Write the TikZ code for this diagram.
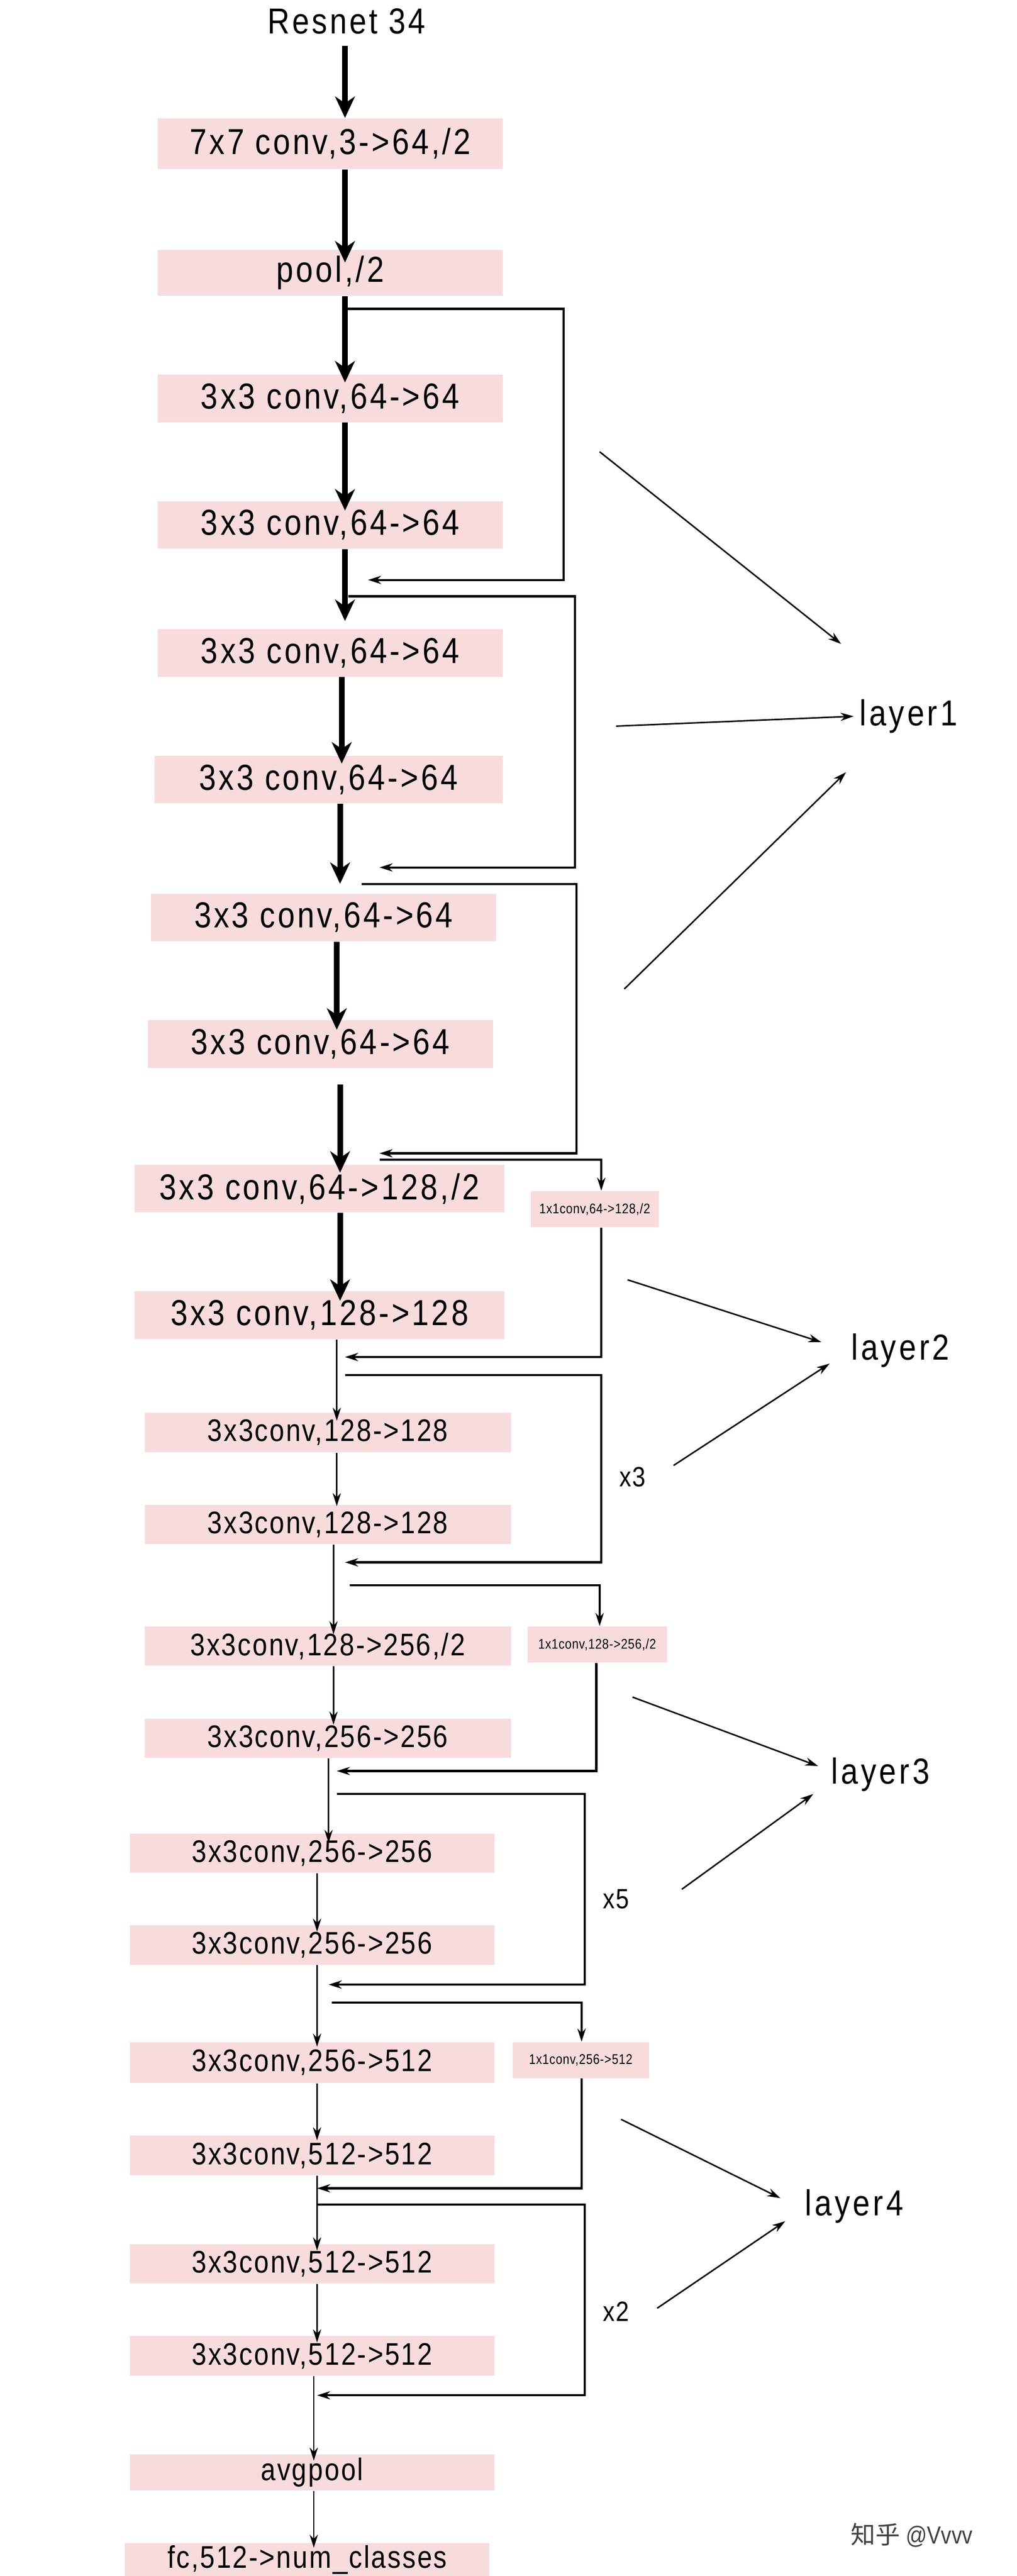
\documentclass[tikz,border=0pt]{standalone}
\usepackage{fontspec}
\setmainfont{Liberation Sans}[FakeStretch=0.85]
\newfontfamily\cjk{Noto Sans CJK SC}
\usetikzlibrary{arrows.meta}
\definecolor{pk}{HTML}{F8DCDD}
\tikzset{
 box/.style={fill=pk,inner sep=0pt,font=\fontsize{22}{24}\selectfont\addfontfeature{LetterSpace=7}},
 tbox/.style={fill=pk,inner sep=0pt,font=\fontsize{19}{21}\selectfont\addfontfeature{LetterSpace=5}},
 sbox/.style={fill=pk,inner sep=0pt,font=\fontsize{8.5}{9}\selectfont\addfontfeature{LetterSpace=3}},
 big/.style={line width=3.5pt,-{Stealth[length=13pt,width=12pt,inset=4pt]}},
 thin/.style={line width=0.9pt,-{Stealth[length=8pt,width=5pt]}},
 skip/.style={line width=1.3pt,-{Stealth[length=8pt,width=5pt]}},
 lab/.style={font=\fontsize{22}{24}\selectfont\addfontfeature{LetterSpace=8}},
 xl/.style={font=\fontsize{17}{19}\selectfont\addfontfeature{LetterSpace=5}}
}
\newcommand{\bx}[7]{\node[#1,minimum width=#3-#2 pt,minimum height=#5-#4 pt] (#6) at ({(#2+#3)/2},{(#4+#5)/2}) {#7};}
\begin{document}
\begin{tikzpicture}[x=1pt,y=-1pt]
\useasboundingbox (0,0) rectangle (619,1568);
\node[font=\fontsize{22}{24}\selectfont\addfontfeature{LetterSpace=7}] (t) at (211,13) {Resnet 34};
\bx{box}{96}{306}{72}{103}{c1}{7x7 conv,3->64,/2}
\bx{box}{96}{306}{152}{180}{p}{pool,/2}
\bx{box}{96}{306}{228}{257}{a1}{3x3 conv,64->64}
\bx{box}{96}{306}{305}{334}{a2}{3x3 conv,64->64}
\bx{box}{96}{306}{383}{412}{a3}{3x3 conv,64->64}
\bx{box}{94}{306}{460}{489}{a4}{3x3 conv,64->64}
\bx{box}{92}{302}{544}{573}{a5}{3x3 conv,64->64}
\bx{box}{90}{300}{621}{650}{a6}{3x3 conv,64->64}
\bx{box}{82}{307}{709}{738}{b1}{3x3 conv,64->128,/2}
\bx{box}{82}{307}{786}{815}{b2}{3x3 conv,128->128}
\bx{tbox}{88}{311}{860}{884}{b3}{3x3conv,128->128}
\bx{tbox}{88}{311}{916}{940}{b4}{3x3conv,128->128}
\bx{tbox}{88}{311}{990}{1014}{c1b}{3x3conv,128->256,/2}
\bx{tbox}{88}{311}{1046}{1070}{c2}{3x3conv,256->256}
\bx{tbox}{79}{301}{1116}{1140}{c3}{3x3conv,256->256}
\bx{tbox}{79}{301}{1172}{1196}{c4}{3x3conv,256->256}
\bx{tbox}{79}{301}{1243}{1268}{d1}{3x3conv,256->512}
\bx{tbox}{79}{301}{1300}{1324}{d2}{3x3conv,512->512}
\bx{tbox}{79}{301}{1366}{1390}{d3}{3x3conv,512->512}
\bx{tbox}{79}{301}{1422}{1446}{d4}{3x3conv,512->512}
\bx{tbox}{79}{301}{1494}{1516}{ap}{avgpool}
\bx{tbox}{76}{298}{1548}{1568}{fc}{fc,512->num\_classes}
\bx{sbox}{323}{401}{725}{747}{s1}{1x1conv,64->128,/2}
\bx{sbox}{321}{406}{990}{1012}{s2}{1x1conv,128->256,/2}
\bx{sbox}{312}{395}{1243}{1265}{s3}{1x1conv,256->512}
% trunk
\draw[big] (210,28) -- (c1.north -| 210,0);
\draw[big] (c1.south -| 210,0) -- ([yshift=-8pt]p.north -| 210,0);
\draw[big] (p.south -| 210,0) -- ([yshift=-5pt]a1.north -| 210,0);
\draw[big] (a1.south -| 210,0) -- ([yshift=-6pt]a2.north -| 210,0);
\draw[big] (a2.south -| 210,0) -- (210,378);
\draw[big] (a3.south -| 208,0) -- ([yshift=-5pt]a4.north -| 208,0);
\draw[big] (a4.south -| 207,0) -- (207,538);
\draw[big] (a5.south -| 205,0) -- ([yshift=-6pt]a6.north -| 205,0);
\draw[big] (207,660) -- ([yshift=-5pt]b1.north -| 207,0);
\draw[big] (b1.south -| 207,0) -- ([yshift=-6pt]b2.north -| 207,0);
\draw[thin] (b2.south -| 205,0) -- ([yshift=-5pt]b3.north -| 205,0);
\draw[thin] (b3.south -| 205,0) -- ([yshift=-1pt]b4.north -| 205,0);
\draw[thin] (b4.south -| 203,0) -- ([yshift=-5pt]c1b.north -| 203,0);
\draw[thin] (c1b.south -| 203,0) -- ([yshift=-4pt]c2.north -| 203,0);
\draw[thin] (c2.south -| 200,0) -- ([yshift=-6pt]c3.north -| 200,0);
\draw[thin] (c3.south -| 193,0) -- ([yshift=-4pt]c4.north -| 193,0);
\draw[thin] (c4.south -| 193,0) -- ([yshift=-3pt]d1.north -| 193,0);
\draw[thin] (d1.south -| 193,0) -- ([yshift=-3pt]d2.north -| 193,0);
\draw[thin] (d2.south -| 193,0) -- ([yshift=-4pt]d3.north -| 193,0);
\draw[thin] (d3.south -| 193,0) -- ([yshift=-4pt]d4.north -| 193,0);
\draw[thin] (d4.south -| 191,0) -- ([yshift=-4pt]ap.north -| 191,0);
\draw[thin] (ap.south -| 191,0) -- ([yshift=-3pt]fc.north -| 191,0);
% skips
\draw[skip] (210,188) -- (343,188) -- (343,353) -- (224,353);
\draw[skip] (212,363) -- (350,363) -- (350,528) -- (231,528);
\draw[skip] (220,538) -- (351,538) -- (351,702) -- (231,702);
\draw[skip] (231,706) -- (366,706) -- (s1.north -| 366,0);
\draw[skip] (s1.south -| 366,0) -- (366,826) -- (210,826);
\draw[skip] (210,837) -- (366,837) -- (366,951) -- (210,951);
\draw[skip] (213,965) -- (365,965) -- (s2.north -| 365,0);
\draw[skip] (s2.south -| 363,0) -- (363,1078) -- (205,1078);
\draw[skip] (205,1092) -- (356,1092) -- (356,1208) -- (200,1208);
\draw[skip] (202,1219) -- (354,1219) -- (s3.north -| 354,0);
\draw[skip] (s3.south -| 354,0) -- (354,1332) -- (193,1332);
\draw[skip] (193,1342) -- (356,1342) -- (356,1458) -- (193,1458);
% layer labels
\node[lab] (l1) at (553,436) {layer1};
\node[lab] (l2) at (548,822) {layer2};
\node[lab] (l3) at (536,1080) {layer3};
\node[lab] (l4) at (520,1343) {layer4};
\node[xl] (x3) at (385,899) {x3};
\node[xl] (x5) at (375,1156) {x5};
\node[xl] (x2) at (375,1407) {x2};
\draw[thin] (365,275) -- (512,392);
\draw[thin] (375,442) -- (l1.west);
\draw[thin] (380,602) -- (515,470);
\draw[thin] (382,779) -- (500,817);
\draw[thin] (410,892) -- (505,830);
\draw[thin] (385,1033) -- (498,1075);
\draw[thin] (415,1150) -- (495,1092);
\draw[thin] (378,1290) -- (475,1338);
\draw[thin] (400,1405) -- (478,1352);
\node[font=\fontsize{15}{17}\selectfont,text=black!75] (wm) at (555,1543) {{\cjk 知乎} @Vvvv};
\end{tikzpicture}
\end{document}
